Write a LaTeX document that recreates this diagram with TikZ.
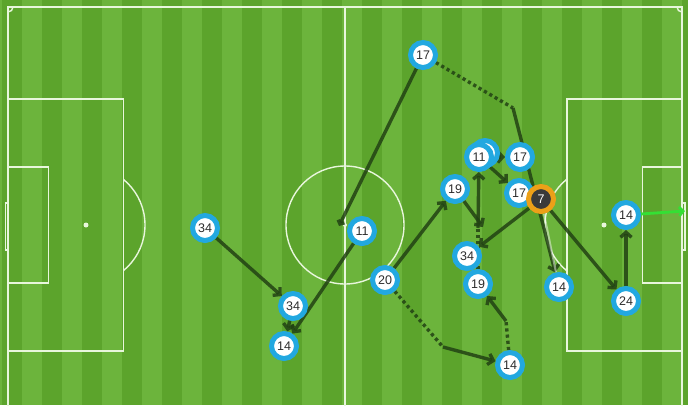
\documentclass[tikz,border=0pt]{standalone}
\usepackage{fontspec}
\setsansfont{Liberation Sans}
\usetikzlibrary{positioning,arrows.meta}
\definecolor{grasslight}{RGB}{108,180,60}
\definecolor{grassdark}{RGB}{92,164,44}
\definecolor{chalk}{RGB}{232,246,220}
\definecolor{ring}{RGB}{34,168,224}
\definecolor{passline}{RGB}{34,66,20}
\definecolor{shotline}{RGB}{52,224,52}
\definecolor{gold}{RGB}{236,160,24}
\definecolor{ink}{RGB}{45,45,45}
\definecolor{coal}{RGB}{58,58,58}
\pgfdeclarelayer{pitch}
\pgfdeclarelayer{lines}
\pgfsetlayers{pitch,lines,main}
\tikzset{player/.style={circle,draw=ring,line width=5pt,fill=white,minimum size=25pt,inner sep=0pt,text=ink,font=\sffamily\fontsize{12.5}{12.5}\selectfont}}
\tikzset{scorer/.style={player,draw=gold,fill=coal,text=white}}
\tikzset{pass/.style={draw=passline,opacity=0.85,line width=3.4pt,-{Straight Barb[length=5pt,width=11pt]}}}
\tikzset{carry/.style={draw=passline,opacity=0.85,line width=3.4pt,dash pattern=on 3.2pt off 3pt}}
\tikzset{trail/.style={draw=white,opacity=0.45,line width=2pt}}
\tikzset{shot/.style={draw=shotline,line width=2.8pt,-{Straight Barb[length=4pt,width=9pt]}}}
\tikzset{chalkline/.style={draw=chalk,line width=1.4pt}}

\begin{document}
\begin{tikzpicture}[x=1pt,y=-1pt]
    \useasboundingbox (0,0) rectangle (688,405);
        \node[player] (34a) at (205,228) {34};
        \node[player] (34b) at (293,306) {34};
        \node[player] (14a) at (284,346) {14};
        \node[player] (11a) at (362,231) {11};
        \node[player] (17a) at (423,55) {17};
        \node[player] (20) at (385,280) {20};
        \node[player] (19a) at (455,189) {19};
        \node[player] (11g) at (485,153) {};
        \node[player] (11b) at (479,157) {11};
        \node[player] (17b) at (520,157) {17};
        \node[player] (17c) at (519,193) {17};
        \node[player] (34c) at (467,256) {34};
        \node[player] (19b) at (478,284) {19};
        \node[player] (14b) at (510,365) {14};
        \node[player] (14c) at (559,287) {14};
        \node[player] (24) at (626,301) {24};
        \node[player] (14d) at (626,215) {14};
        \node[scorer] (7) at (541,199) {7};
        \coordinate (kick) at (339,226);
        \coordinate (run17) at (513,108);
        \coordinate (run20) at (443,347);
        \coordinate (run14) at (506,321);
        \coordinate (turn) at (478,228);
        \coordinate (drop19) at (483,227);
        \coordinate (goal) at (685,211);
    \begin{pgfonlayer}{pitch}
        \begin{scope}
            \clip (0,0) rectangle (688,405);
            \fill[grasslight] (0,0) rectangle (688,405);
            \foreach \x in {2,42,...,682}
                \fill[grassdark] (\x,0) rectangle ++(20,405);
            \draw[chalkline] (8,7) rectangle (682,460);
            \draw[chalkline] (345,7) -- (345,460);
            \draw[chalkline] (345,225) circle[radius=59];
            \draw[chalkline] (8,99) rectangle (123.5,351);
            \draw[chalkline] (8,167) rectangle (48.5,283);
            \draw[chalkline] (5.5,203) rectangle (8,250);
            \draw[chalkline] (567,99) rectangle (682,351);
            \draw[chalkline] (642.5,167) rectangle (682,283);
            \draw[chalkline] (682,203) rectangle (685,250);
            \fill[chalk] (86,225) circle[radius=2.5];
            \fill[chalk] (604,225) circle[radius=2.5];
            \fill[chalk] (345,225) circle[radius=2];
        \end{scope}
        \begin{scope}
            \clip (123.5,0) rectangle (220,405);
            \draw[chalkline] (86,225) circle[radius=59];
        \end{scope}
        \begin{scope}
            \clip (470,0) rectangle (567,405);
            \draw[chalkline] (604,225) circle[radius=59];
        \end{scope}
        \begin{scope}
            \clip (8,7) rectangle (682,405);
            \draw[chalkline] (8,7) circle[radius=5];
            \draw[chalkline] (682,7) circle[radius=5];
        \end{scope}
    \end{pgfonlayer}
    \begin{pgfonlayer}{lines}
        \draw[pass] (34a) -- (34b);
        \draw[pass] (34b) -- (14a);
        \draw[pass] (11a) -- (14a);
        \draw[pass,-{Straight Barb[length=3pt,width=7pt]}] (17a) -- (kick);
        \draw[carry] (17a) -- (run17);
        \draw[pass] (run17) -- (14c);
        \draw[trail] (7) -- (14c);
        \draw[pass] (7) -- (24);
        \draw[pass] (24) -- (14d);
        \draw[shot] (14d) -- (goal);
        \draw[pass] (20) -- (19a);
        \draw[carry] (20) -- (run20);
        \draw[pass] (run20) -- (14b);
        \draw[carry] (14b) -- (run14);
        \draw[pass] (run14) -- (19b);
        \draw[carry] (19b) -- (turn);
        \draw[pass] (turn) -- (11b);
        \draw[pass] (19a) -- (drop19);
        \draw[pass] (7) -- (34c);
        \draw[pass] (11b) -- (17b);
        \draw[pass] (11b) -- (17c);
    \end{pgfonlayer}
\end{tikzpicture}
\end{document}
